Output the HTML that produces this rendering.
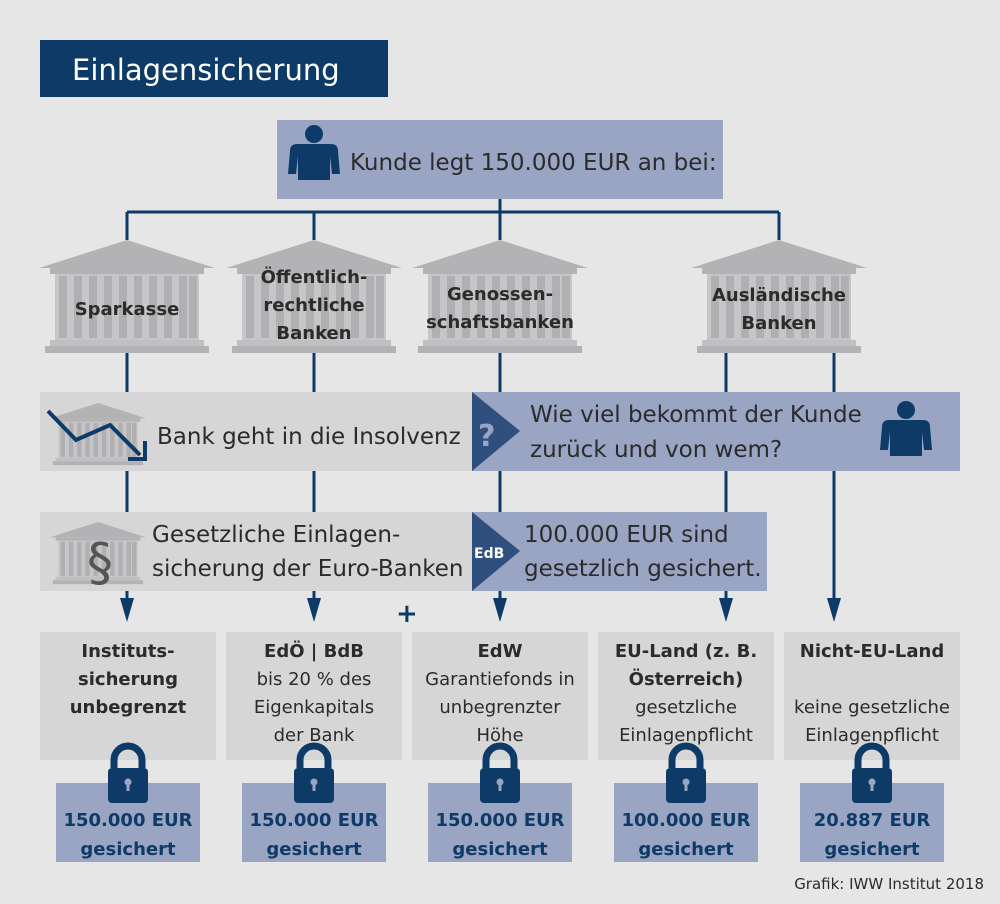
<!DOCTYPE html>
<html><head><meta charset="utf-8"><style>
body{margin:0;background:#e6e6e6}
svg{display:block}
text{font-family:"DejaVu Sans","Liberation Sans",sans-serif;fill:#2b2b2b}
.b{font-weight:bold}
</style></head><body>
<svg width="1000" height="904" viewBox="0 0 1000 904" xmlns="http://www.w3.org/2000/svg">
<defs>
<g id="bank">
<polygon points="-88,268 0,240 88,268" fill="#b3b3b5"/>
<rect x="-77" y="268" width="154" height="6" fill="#b3b3b5"/>
<rect x="-72" y="274" width="144" height="66" fill="#c6c6c8"/>
<g fill="#b0b0b2">
<rect x="-68" y="276" width="8" height="62"/><rect x="-53" y="276" width="8" height="62"/><rect x="-38" y="276" width="8" height="62"/><rect x="-23" y="276" width="8" height="62"/><rect x="-8" y="276" width="8" height="62"/><rect x="7" y="276" width="8" height="62"/><rect x="22" y="276" width="8" height="62"/><rect x="37" y="276" width="8" height="62"/><rect x="52" y="276" width="8" height="62"/><rect x="62" y="276" width="8" height="62"/>
</g>
<rect x="-77" y="340" width="154" height="6" fill="#c0c0c2"/>
<rect x="-82" y="346" width="164" height="7" fill="#b3b3b5"/>
</g>
<g id="lock">
<path d="M-14,0 v-8 a14,14 0 0 1 28,0 v8" fill="none" stroke="#0e3a68" stroke-width="7"/>
<rect x="-20" y="0" width="40" height="35" rx="4" fill="#0e3a68"/>
<circle cx="0" cy="14" r="3.5" fill="#9aa5c3"/><rect x="-1.5" y="14" width="3" height="9" fill="#9aa5c3"/>
</g>
<g id="person">
<circle cx="0" cy="-14" r="9" fill="#0e3a68"/>
<path d="M-26,26 L-24,3 Q-24,-4 -17,-4 L17,-4 Q24,-4 24,3 L26,26 L18,26 L16,8 L16,32 L-16,32 L-16,8 L-18,26 Z" fill="#0e3a68"/>
</g>
</defs>
<rect x="40" y="40" width="348" height="57" fill="#0d3a66"/>
<text x="72" y="80" font-size="29" style="fill:#fff">Einlagensicherung</text>

<rect x="277" y="120" width="446" height="79" fill="#9aa5c3"/>
<use href="#person" x="314" y="148"/>
<text x="350" y="170" font-size="23">Kunde legt 150.000 EUR an bei:</text>

<g stroke="#0e3a68" stroke-width="3" fill="none">
<path d="M500,199 V212 M127,212 H779 M127,212 V240 M314,212 V240 M779,212 V240 M500,212 V240"/>
<path d="M127,353 V600 M314,353 V600 M500,353 V600 M726,353 V600 M834,353 V600"/>
</g>
<g fill="#0e3a68">
<polygon points="120,598 134,598 127,622"/><polygon points="307,598 321,598 314,622"/><polygon points="493,598 507,598 500,622"/><polygon points="719,598 733,598 726,622"/><polygon points="827,598 841,598 834,622"/>
</g>
<text x="396" y="622" font-size="26" class="b" style="fill:#0e3a68">+</text>

<use href="#bank" x="127"/><use href="#bank" x="314"/><use href="#bank" x="500"/><use href="#bank" x="779"/>
<g font-size="18" class="b" text-anchor="middle">
<text x="127" y="315">Sparkasse</text>
<text x="314" y="283">Öffentlich-</text><text x="314" y="311">rechtliche</text><text x="314" y="339">Banken</text>
<text x="500" y="300">Genossen-</text><text x="500" y="328">schaftsbanken</text>
<text x="779" y="301">Ausländische</text><text x="779" y="329">Banken</text>
</g>

<rect x="40" y="392" width="432" height="79" fill="#d6d6d6"/>
<rect x="472" y="392" width="488" height="79" fill="#9aa5c3"/>
<polygon points="472,392 520,431 472,471" fill="#2f4f7f"/>
<text x="478" y="446" font-size="30" class="b" style="fill:#9aa5c3">?</text>
<use href="#bank" transform="translate(98,271) scale(0.55)"/>
<polyline points="48,411 76,440 110,425 140,455" fill="none" stroke="#0e3a68" stroke-width="4"/>
<polyline points="128,459 145,459 145,441" fill="none" stroke="#0e3a68" stroke-width="4"/>
<text x="157" y="444" font-size="23">Bank geht in die Insolvenz</text>
<text x="530" y="422" font-size="23">Wie viel bekommt der Kunde</text>
<text x="530" y="457" font-size="23">zurück und von wem?</text>
<use href="#person" x="906" y="424"/>

<rect x="40" y="512" width="432" height="79" fill="#d6d6d6"/>
<rect x="472" y="512" width="295" height="79" fill="#9aa5c3"/>
<polygon points="472,512 520,551 472,591" fill="#2f4f7f"/>
<text x="474" y="558" font-size="14" class="b" style="fill:#fff">EdB</text>
<use href="#bank" transform="translate(98,390) scale(0.55)"/>
<text x="100" y="580" font-size="52" text-anchor="middle" style="fill:#555">§</text>
<text x="152" y="542" font-size="23">Gesetzliche Einlagen-</text>
<text x="152" y="576" font-size="23">sicherung der Euro-Banken</text>
<text x="524" y="542" font-size="23">100.000 EUR sind</text>
<text x="524" y="576" font-size="23">gesetzlich gesichert.</text>

<g fill="#d6d6d6">
<rect x="40" y="632" width="176" height="128"/><rect x="226" y="632" width="176" height="128"/><rect x="412" y="632" width="176" height="128"/><rect x="598" y="632" width="176" height="128"/><rect x="784" y="632" width="176" height="128"/>
</g>
<g font-size="18" text-anchor="middle">
<text x="128" y="657" class="b">Instituts-</text><text x="128" y="685" class="b">sicherung</text><text x="128" y="713" class="b">unbegrenzt</text>
<text x="314" y="657" class="b">EdÖ | BdB</text><text x="314" y="685">bis 20 % des</text><text x="314" y="713">Eigenkapitals</text><text x="314" y="741">der Bank</text>
<text x="500" y="657" class="b">EdW</text><text x="500" y="685">Garantiefonds in</text><text x="500" y="713">unbegrenzter</text><text x="500" y="741">Höhe</text>
<text x="686" y="657" class="b">EU-Land (z. B.</text><text x="686" y="685" class="b">Österreich)</text><text x="686" y="713">gesetzliche</text><text x="686" y="741">Einlagenpflicht</text>
<text x="872" y="657" class="b">Nicht-EU-Land</text><text x="872" y="713">keine gesetzliche</text><text x="872" y="741">Einlagenpflicht</text>
</g>
<g fill="#9aa5c3">
<rect x="56" y="783" width="144" height="79"/><rect x="242" y="783" width="144" height="79"/><rect x="428" y="783" width="144" height="79"/><rect x="614" y="783" width="144" height="79"/><rect x="800" y="783" width="144" height="79"/>
</g>
<use href="#lock" x="128" y="768"/><use href="#lock" x="314" y="768"/><use href="#lock" x="500" y="768"/><use href="#lock" x="686" y="768"/><use href="#lock" x="872" y="768"/>
<g font-size="18" class="b" text-anchor="middle">
<text x="128" y="826" style="fill:#0e3a68">150.000 EUR</text><text x="128" y="855" style="fill:#0e3a68">gesichert</text>
<text x="314" y="826" style="fill:#0e3a68">150.000 EUR</text><text x="314" y="855" style="fill:#0e3a68">gesichert</text>
<text x="500" y="826" style="fill:#0e3a68">150.000 EUR</text><text x="500" y="855" style="fill:#0e3a68">gesichert</text>
<text x="686" y="826" style="fill:#0e3a68">100.000 EUR</text><text x="686" y="855" style="fill:#0e3a68">gesichert</text>
<text x="872" y="826" style="fill:#0e3a68">20.887 EUR</text><text x="872" y="855" style="fill:#0e3a68">gesichert</text>
</g>
<text x="984" y="889" font-size="15" text-anchor="end">Grafik: IWW Institut 2018</text>
</svg>
</body></html>
